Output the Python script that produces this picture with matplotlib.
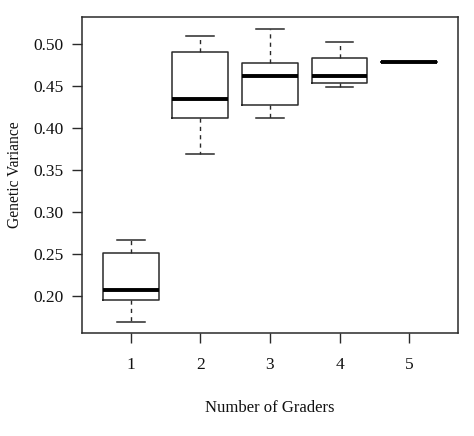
"""
Genetic variance by number of graders (R-style boxplot).
"""

import matplotlib
matplotlib.use("Agg")
import matplotlib.pyplot as plt


# Five-number summaries

graders = [1, 2, 3, 4, 5]
whisker_low = [0.169, 0.369, 0.412, 0.449, 0.4786]
q1 = [0.1945, 0.412, 0.4274, 0.4529, 0.4786]
median = [0.2068, 0.4342, 0.4615, 0.4612, 0.4786]
q3 = [0.2505, 0.4905, 0.4774, 0.4826, 0.4786]
whisker_high = [0.2663, 0.5095, 0.5175, 0.5017, 0.4786]

y_ticks = [0.20, 0.25, 0.30, 0.35, 0.40, 0.45, 0.50]

stats = [
    {"label": str(g), "whislo": lo, "q1": a, "med": m, "q3": b, "whishi": hi}
    for g, lo, a, m, b, hi in zip(graders, whisker_low, q1, median, q3, whisker_high)
]

plt.rcParams["font.family"] = ["Liberation Serif", "DejaVu Serif"]
ink = "#2a2a2a"

fig = plt.figure(figsize=(4.74, 4.36), dpi=100)
ax = fig.add_axes([0.173, 0.236, 0.793, 0.725])

ax.bxp(
    stats,
    positions=graders,
    widths=0.8,
    showfliers=False,
    boxprops=dict(color=ink, linewidth=1.1),
    medianprops=dict(color="black", linewidth=2.8, solid_capstyle="butt"),
    whiskerprops=dict(color=ink, linewidth=1.0, linestyle=(0, (3, 3))),
    capprops=dict(color=ink, linewidth=1.1),
    capwidths=0.4,
)

ax.set_xlim(0.3, 5.7)
ax.set_ylim(0.1556, 0.5318)
ax.set_xticks(graders)
ax.set_xticklabels([str(g) for g in graders])
ax.set_yticks(y_ticks)
ax.set_yticklabels([f"{t:.2f}" for t in y_ticks])

for s in ax.spines.values():
    s.set_color(ink)
    s.set_linewidth(1.1)

ax.tick_params(axis="both", length=7, width=1.0, color=ink, labelsize=12.5, labelcolor="#111111")
ax.tick_params(axis="x", pad=10)
ax.tick_params(axis="y", pad=6)

ax.set_xlabel("Number of Graders", fontsize=12, color="#111111", labelpad=20)
ax.set_ylabel("Genetic Variance", fontsize=11.2, color="#111111", labelpad=8)

fig.savefig("out.png", dpi=100)
